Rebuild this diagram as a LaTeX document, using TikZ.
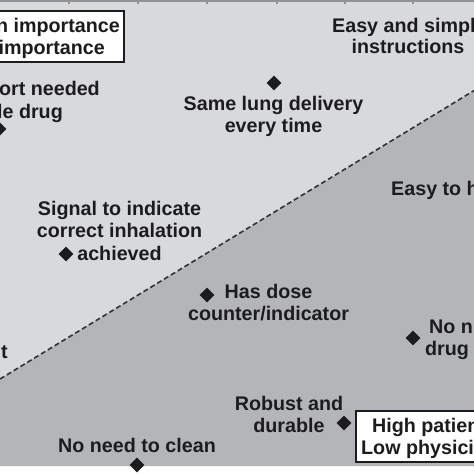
\documentclass[tikz,border=0pt]{standalone}
\usepackage{fontspec}
\setmainfont{Liberation Sans}
\usetikzlibrary{shapes.geometric}
\definecolor{lightreg}{HTML}{D8D9DB}
\definecolor{darkreg}{HTML}{B4B5B8}
\definecolor{axisgray}{HTML}{929292}
\definecolor{ink}{HTML}{1C1C1E}
\tikzset{
  lbl/.style={font=\fontsize{19.7}{22.3}\selectfont\bfseries, text=ink, inner sep=0pt, anchor=base},
  lblw/.style={lbl, anchor=base west},
  lble/.style={lbl, anchor=base east},
  mark/.style={}, 
  dia/.style={diamond, fill=ink, draw=none, inner sep=0pt, minimum width=15pt, minimum height=15pt},
  keybox/.style={draw=ink, line width=2pt, fill=white},
  split/.style={draw=ink!90, line width=1.6pt, dash pattern=on 5pt off 3pt}
}
\begin{document}
\begin{tikzpicture}[x=1pt,y=-1pt]
\useasboundingbox (0,0) rectangle (474,474);
% regions
\fill[white] (0,0) rectangle (474,474);
\fill[lightreg] (0,2) -- (474,2) -- (474,90.6) -- (0,379) -- cycle;
\fill[darkreg] (0,379) -- (474,90.6) -- (474,466) -- (0,466) -- cycle;
% top axis with ticks
\fill[axisgray] (0,0) rectangle (474,2.2);
\foreach \tx in {69,138,207,277,345,413} \draw[axisgray, line width=1.4pt] (\tx,0) -- (\tx,4);
% dividing line
\coordinate (dl) at (0,379);
\coordinate (dr) at (474,90.6);
\draw[split] (dl) -- (dr);
% key boxes
\draw[keybox] (-10,11) rectangle (124,62);
\node[lble] (tl1) at (120,32) {n importance};
\node[lble] (tl2) at (105,54) {importance};
\draw[keybox] (356,411) rectangle (484,462);
\node[lblw] (br1) at (372,432) {High patien};
\node[lblw] (br2) at (361,454) {Low physici};
% labels
\node[lble] (ef1) at (100,95) {ort needed};
\node[lble] (ef2) at (63,118) {le drug};
\node[dia] (efd) at (-1,129) {};

\node[lbl] (sl1) at (273.5,110) {Same lung delivery};
\node[lbl] (sl2) at (273.5,132) {every time};
\node[dia] (sld) at (274,83) {};

\node[lblw] (es1) at (332,32) {Easy and simpl};
\node[lbl] (es2) at (408,53) {instructions};

\node[lbl] (sg1) at (119.5,215) {Signal to indicate};
\node[lbl] (sg2) at (119.5,237.5) {correct inhalation};
\node[lbl] (sg3) at (119.5,260) {achieved};
\node[dia] (sgd) at (66,254) {};

\node[lblw] (eh) at (391,195) {Easy to h};

\node[lbl] (hd1) at (268.5,298) {Has dose};
\node[lbl] (hd2) at (268.5,320) {counter/indicator};
\node[dia] (hdd) at (207,295) {};

\node[lblw] (nn1) at (429,333) {No n};
\node[lblw] (nn2) at (425,355) {drug};
\node[dia] (nnd) at (413,338) {};

\node[lble] (tt) at (8,358) {t};

\node[lbl] (rb1) at (289,410) {Robust and};
\node[lbl] (rb2) at (289,432) {durable};
\node[dia] (rbd) at (344,423) {};

\node[lbl] (nc) at (137,452) {No need to clean};
\node[dia] (ncd) at (137,465) {};
\end{tikzpicture}
\end{document}
